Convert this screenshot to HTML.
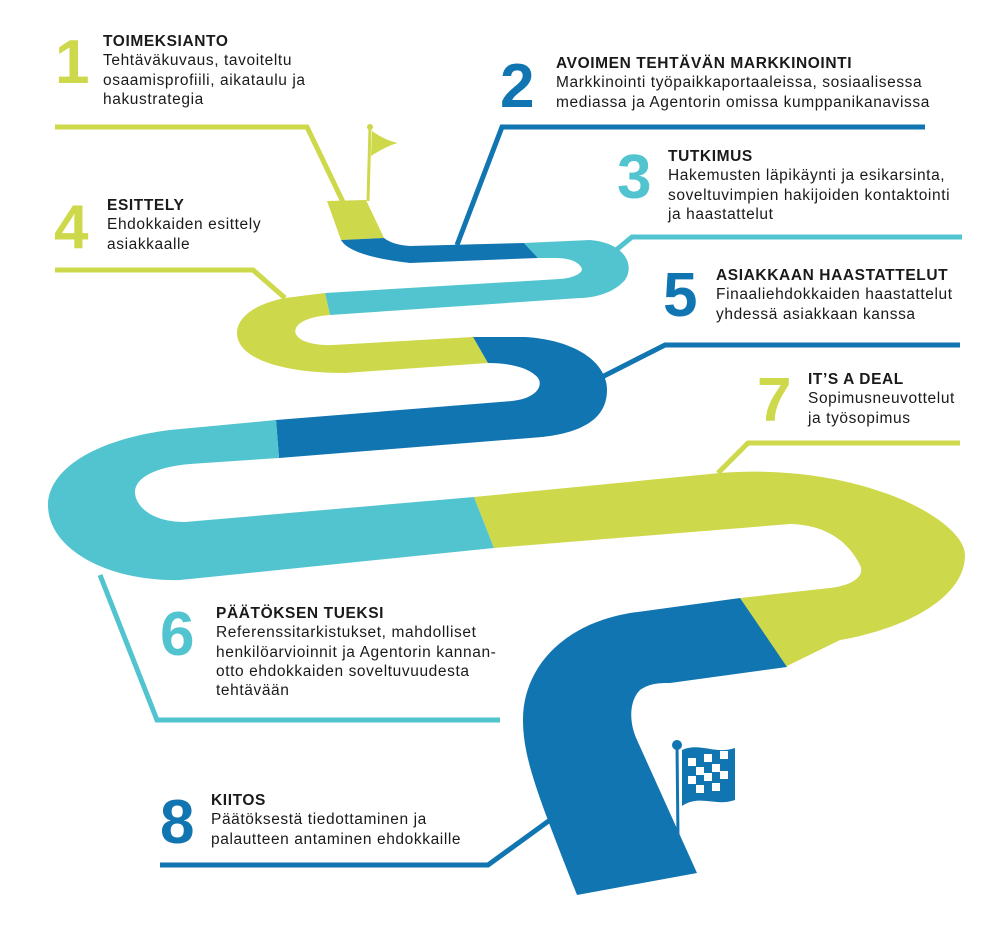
<!DOCTYPE html>
<html><head><meta charset="utf-8"><style>
body{margin:0;background:#fff;width:993px;height:939px;overflow:hidden;position:relative;font-family:"Liberation Sans",sans-serif;color:#1a1a1a}
.n{position:absolute;font-weight:bold;font-size:62px;line-height:1}
.t{position:absolute;font-size:15.5px;line-height:19.3px;letter-spacing:0.6px;white-space:nowrap}
.t b{font-weight:bold}
.L{color:#cdd84a}.B{color:#1175b2}.C{color:#52c4cf}
svg{position:absolute;left:0;top:0}
</style></head><body>
<svg width="993" height="939">
<g fill="none" stroke-width="5">
<polyline points="55,127 307,127 343,202" stroke="#cdd84a"/>
<polyline points="925,127 502,127 457,245" stroke="#1175b2"/>
<polyline points="962,237 632,237 610,255" stroke="#52c4cf"/>
<polyline points="55,270 253,270 285,298" stroke="#cdd84a"/>
<polyline points="960,345 665,345 600,378" stroke="#1175b2"/>
<polyline points="960,443 748,443 718,473" stroke="#cdd84a"/>
<polyline points="500,720 157,720 100,575" stroke="#52c4cf"/>
<polyline points="160,865 488,865 550,820" stroke="#1175b2"/>
</g>
<line x1="368" y1="201" x2="370" y2="127" stroke="#cdd84a" stroke-width="3"/>
<circle cx="370" cy="127" r="3" fill="#cdd84a"/>
<path d="M372,131 C378,135 385,140 398,143 C390,145 380,150 371,156 Z" fill="#cdd84a"/>
<polygon points="327,201 366,200 384,238 341,240" fill="#cdd84a"/>
<path d="M341,240 Q350,256 410,263 L538,258 L524,243 L410,246 Q393,245 384,238 Z" fill="#1175b2"/>
<path d="M524,243 L590,240 C625,243 635,265 625,280 C612,295 590,298 580,298 L330,315 L325,293 L560,279 C575,278 585,272 581,267 C577,260 565,258 555,258 L538,258 Z" fill="#52c4cf"/>
<path d="M325,293 L285,298 C250,305 237,320 237,333 C237,358 280,373 345,373 L488,363 L473,337 L333,345 C305,346 292,337 296,328 C300,320 315,316 330,315 Z" fill="#cdd84a"/>
<path d="M473,337 L525,337 C575,340 607,362 607,390 C607,420 580,435 530,438 L279,458 L276,420 L512,401 C540,398 545,382 535,375 C525,366 505,363 488,363 Z" fill="#1175b2"/>
<path d="M276,420 L170,430 C90,440 48,472 48,505 C48,550 110,582 180,580 L494,548 L474,497 L185,522 C150,522 135,505 135,492 C135,478 155,467 190,464 L279,458 Z" fill="#52c4cf"/>
<path d="M474,497 L720,473 C860,462 965,520 965,555 C965,600 900,630 840,640 L785,667 L740,598 L830,588 C855,585 865,575 860,565 C850,545 830,525 790,524 L494,548 Z" fill="#cdd84a"/>
<path d="M740,598 L630,613 C560,625 523,670 523,720 C523,760 540,800 577,895 L697,873 L637,740 C628,720 630,700 640,690 C650,683 660,683 670,683 L787,667 Z" fill="#1175b2"/>
<line x1="677" y1="745" x2="678" y2="838" stroke="#1175b2" stroke-width="3"/>
<circle cx="677" cy="745" r="5" fill="#1175b2"/>
<path d="M682,750 C700,742 715,755 735,748 L735,800 C715,807 700,794 682,806 Z" fill="#1175b2"/>
<g fill="#fff">
<rect x="688" y="758" width="8" height="8"/><rect x="704" y="754" width="8" height="8"/><rect x="720" y="751" width="8" height="8"/>
<rect x="696" y="767" width="8" height="8"/><rect x="712" y="764" width="8" height="8"/>
<rect x="688" y="776" width="8" height="8"/><rect x="704" y="773" width="8" height="8"/><rect x="720" y="771" width="8" height="8"/>
<rect x="696" y="785" width="8" height="8"/><rect x="712" y="783" width="8" height="8"/>
</g>
</svg>
<div class="n L" style="left:55px;top:32px">1</div>
<div class="t" style="left:103px;top:32px"><b>TOIMEKSIANTO</b><br>Tehtäväkuvaus, tavoiteltu<br>osaamisprofiili, aikataulu ja<br>hakustrategia</div>
<div class="n B" style="left:500px;top:56px">2</div>
<div class="t" style="left:556px;top:54px"><b>AVOIMEN TEHTÄVÄN MARKKINOINTI</b><br>Markkinointi työpaikkaportaaleissa, sosiaalisessa<br>mediassa ja Agentorin omissa kumppanikanavissa</div>
<div class="n C" style="left:617px;top:147px">3</div>
<div class="t" style="left:668px;top:147px"><b>TUTKIMUS</b><br>Hakemusten läpikäynti ja esikarsinta,<br>soveltuvimpien hakijoiden kontaktointi<br>ja haastattelut</div>
<div class="n L" style="left:54px;top:197px">4</div>
<div class="t" style="left:107px;top:196px"><b>ESITTELY</b><br>Ehdokkaiden esittely<br>asiakkaalle</div>
<div class="n B" style="left:663px;top:265px">5</div>
<div class="t" style="left:716px;top:266px"><b>ASIAKKAAN HAASTATTELUT</b><br>Finaaliehdokkaiden haastattelut<br>yhdessä asiakkaan kanssa</div>
<div class="n L" style="left:757px;top:370px">7</div>
<div class="t" style="left:808px;top:370px"><b>IT’S A DEAL</b><br>Sopimusneuvottelut<br>ja työsopimus</div>
<div class="n C" style="left:160px;top:604px">6</div>
<div class="t" style="left:216px;top:604px"><b>PÄÄTÖKSEN TUEKSI</b><br>Referenssitarkistukset, mahdolliset<br>henkilöarvioinnit ja Agentorin kannan-<br>otto ehdokkaiden soveltuvuudesta<br>tehtävään</div>
<div class="n B" style="left:160px;top:792px">8</div>
<div class="t" style="left:211px;top:791px"><b>KIITOS</b><br>Päätöksestä tiedottaminen ja<br>palautteen antaminen ehdokkaille</div>
</body></html>
